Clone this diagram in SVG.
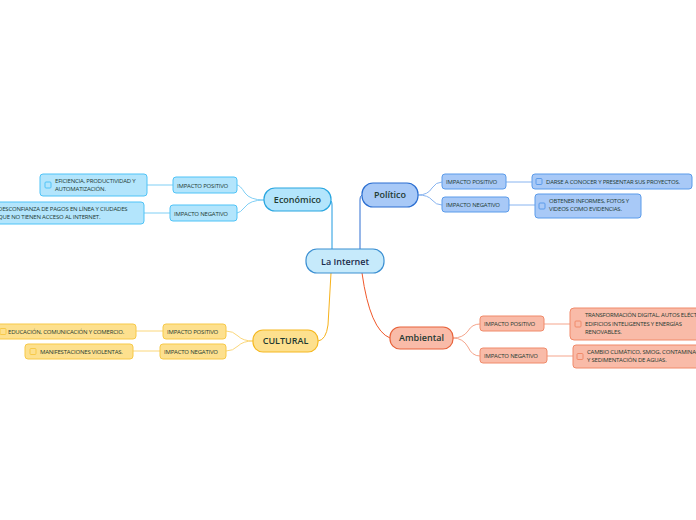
<svg xmlns="http://www.w3.org/2000/svg" width="696" height="520" viewBox="0 0 696 520">
<style>
text{font-family:"Open Sans","Noto Sans",sans-serif;fill:#1e3a32}
.m{font-size:9px;font-weight:600;text-anchor:middle}
.s{font-size:6px;letter-spacing:-0.2px}
.c{fill:none;stroke-width:1}
.bx{fill:none;stroke:#333;stroke-width:1}
.e rect{fill:#b3e5fc;stroke:#4fc3f7}
.p rect{fill:#a8c9f7;stroke:#5b9bea}
.a rect{fill:#f9bba8;stroke:#f08a6a}
.u rect{fill:#fde08e;stroke:#f7c948}
</style>
<rect width="696" height="520" fill="#fff"/>
<g id="connectors">
<path class="c" stroke="#1e9ae0" stroke-width="1.5" d="M332 249 L332 205 Q332 200 329 200"/>
<path class="c" stroke="#2e6fd2" stroke-width="1.5" d="M360 249 L360 200 Q360 195 363 195"/>
<path class="c" stroke="#f0582a" stroke-width="1.5" d="M362 273 Q370 330 390 338"/>
<path class="c" stroke="#f7b21b" stroke-width="1.5" d="M331 273 L328 325 Q326 340 318 341"/>
<g stroke="#7fcff5" class="c"><path d="M264 200 Q250 200 245 193 Q240 185 237 185"/><path d="M264 200 Q250 200 245 207 Q240 213 237 213"/><path d="M173 185 L147 185"/><path d="M170 213 L144 213"/></g>
<g stroke="#88b4f0" class="c"><path d="M418 195 Q428 195 432 188 Q436 182 442 182"/><path d="M418 195 Q428 195 432 200 Q436 205 442 205"/><path d="M506 182 L532 182"/><path d="M509 205 L535 205"/></g>
<g stroke="#f5a58c" class="c"><path d="M453 338 Q463 338 468 331 Q472 324 480 324"/><path d="M453 338 Q463 338 468 347 Q472 356 480 356"/><path d="M544 324 L570 324"/><path d="M547 356 L573 356"/></g>
<g stroke="#fbd77a" class="c"><path d="M253 341 Q243 341 238 336 Q233 331 226 331"/><path d="M253 341 Q243 341 238 346 Q233 351 226 351"/><path d="M163 331 L136 331"/><path d="M160 351 L133 351"/></g>
</g>
<g id="root"><rect x="306" y="249" width="78" height="24" rx="11" fill="#c6eafb" stroke="#3b8fd2" stroke-width="1.2"/><text class="m" x="345" y="264.5" style="fill:#1a2b4a">La Internet</text></g>
<g id="economico" class="e"><rect x="264" y="188" width="67" height="23" rx="11" stroke-width="1.2" style="stroke:#29a6e0"/><text class="m" x="297.5" y="202.5" font-size="8.5">Económico</text></g>
<g id="eco-pos" class="e"><rect x="173" y="177" width="64" height="16" rx="3"/><text class="s" x="177" y="187.5">IMPACTO POSITIVO</text></g>
<g id="eco-neg" class="e"><rect x="170" y="205" width="67" height="16" rx="3"/><text class="s" x="174" y="215.5">IMPACTO NEGATIVO</text></g>
<g id="eco-pos-leaf" class="e"><rect x="40" y="174" width="107" height="22" rx="3"/><rect class="bx" x="45" y="182" width="6" height="6" rx="1"/><text class="s" x="55" y="182.5">EFICIENCIA, PRODUCTIVIDAD Y</text><text class="s" x="55" y="191">AUTOMATIZACIÓN.</text></g>
<g id="eco-neg-leaf" class="e"><rect x="-10" y="202" width="154" height="22" rx="3"/><text class="s" x="-2" y="210.5">DESCONFIANZA DE PAGOS EN LÍNEA Y CIUDADES</text><text class="s" x="-2" y="219">QUE NO TIENEN ACCESO AL INTERNET.</text></g>
<g id="politico" class="p"><rect x="362" y="183" width="56" height="24" rx="11" stroke-width="1.2" style="stroke:#2c6fd1"/><text class="m" x="390" y="198" font-size="8.5">Político</text></g>
<g id="pol-pos" class="p"><rect x="442" y="174" width="64" height="15" rx="3"/><text class="s" x="446" y="184">IMPACTO POSITIVO</text></g>
<g id="pol-neg" class="p"><rect x="442" y="197" width="67" height="15" rx="3"/><text class="s" x="446" y="207">IMPACTO NEGATIVO</text></g>
<g id="pol-pos-leaf" class="p"><rect x="532" y="174" width="160" height="15" rx="3"/><rect class="bx" x="536" y="178.5" width="6" height="6" rx="1"/><text class="s" x="546" y="184">DARSE A CONOCER Y PRESENTAR SUS PROYECTOS.</text></g>
<g id="pol-neg-leaf" class="p"><rect x="535" y="194" width="106" height="24" rx="3"/><rect class="bx" x="539" y="203" width="6" height="6" rx="1"/><text class="s" x="549" y="202.5">OBTENER INFORMES, FOTOS Y</text><text class="s" x="549" y="211">VIDEOS COMO EVIDENCIAS.</text></g>
<g id="ambiental" class="a"><rect x="390" y="327" width="63" height="22" rx="10" stroke-width="1.2" style="stroke:#e8623a"/><text class="m" x="421.5" y="341" font-size="8.5">Ambiental</text></g>
<g id="amb-pos" class="a"><rect x="480" y="316" width="64" height="15" rx="3"/><text class="s" x="484" y="326">IMPACTO POSITIVO</text></g>
<g id="amb-neg" class="a"><rect x="480" y="348" width="67" height="15" rx="3"/><text class="s" x="484" y="358">IMPACTO NEGATIVO</text></g>
<g id="amb-pos-leaf" class="a"><rect x="570" y="308" width="136" height="32" rx="4"/><rect class="bx" x="575" y="321" width="6" height="6" rx="1"/><text class="s" x="585" y="317">TRANSFORMACIÓN DIGITAL, AUTOS ELÉCTRICOS,</text><text class="s" x="585" y="325.5">EDIFICIOS INTELIGENTES Y ENERGÍAS</text><text class="s" x="585" y="334">RENOVABLES.</text></g>
<g id="amb-neg-leaf" class="a"><rect x="573" y="345" width="133" height="23" rx="3"/><rect class="bx" x="577" y="353.5" width="6" height="6" rx="1"/><text class="s" x="587" y="353.5">CAMBIO CLIMÁTICO, SMOG, CONTAMINACIÓN</text><text class="s" x="587" y="362">Y SEDIMENTACIÓN DE AGUAS.</text></g>
<g id="cultural" class="u"><rect x="253" y="330" width="65" height="22" rx="10" stroke-width="1.2" style="stroke:#f5b820"/><text class="m" x="285.5" y="344" font-size="8.5">CULTURAL</text></g>
<g id="cul-pos" class="u"><rect x="163" y="324" width="63" height="15" rx="3"/><text class="s" x="167" y="334">IMPACTO POSITIVO</text></g>
<g id="cul-neg" class="u"><rect x="160" y="344" width="66" height="15" rx="3"/><text class="s" x="164" y="354">IMPACTO NEGATIVO</text></g>
<g id="cul-pos-leaf" class="u"><rect x="-6" y="324" width="142" height="15" rx="3"/><rect class="bx" x="0" y="328.5" width="6" height="6" rx="1"/><text class="s" x="8" y="334">EDUCACIÓN, COMUNICACIÓN Y COMERCIO.</text></g>
<g id="cul-neg-leaf" class="u"><rect x="25" y="344" width="108" height="15" rx="3"/><rect class="bx" x="30" y="348.5" width="6" height="6" rx="1"/><text class="s" x="40" y="354">MANIFESTACIONES VIOLENTAS.</text></g>
</svg>
